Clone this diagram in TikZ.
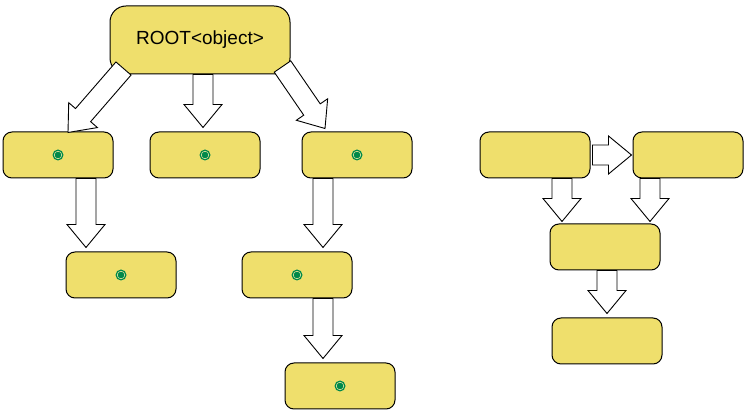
\documentclass[tikz,border=0pt]{standalone}
\usepackage{fontspec}
\setmainfont{Liberation Sans}
\usetikzlibrary{calc}
\definecolor{boxy}{HTML}{EFDF6C}
\definecolor{dotg}{HTML}{00894A}
\tikzset{
  box/.style={draw=black, line width=1pt, fill=boxy, rounded corners=9pt, minimum width=110pt, minimum height=46pt, inner sep=0pt},
  fat/.style={draw=black, line width=0.9pt, fill=white},
}
\newcommand{\dotmark}[1]{\fill[dotg] (#1) circle (5.5pt); \draw[boxy!60!white, line width=0.5pt] (#1) circle (3.8pt);}
% fat arrow from #1 to #2
\newcommand{\fatarr}[2]{%
  \draw[fat] let \p1=(#1), \p2=(#2), \n1={atan2(\y2-\y1,\x2-\x1)}, \n2={veclen(\x2-\x1,\y2-\y1)} in
   ($(\p1)+(\n1+90:10pt)$) -- ($(\p1)+(\n1:\n2-23pt)+(\n1+90:10pt)$) -- ($(\p1)+(\n1:\n2-23pt)+(\n1+90:19pt)$)
   -- (\p2) -- ($(\p1)+(\n1:\n2-23pt)+(\n1-90:19pt)$) -- ($(\p1)+(\n1:\n2-23pt)+(\n1-90:10pt)$)
   -- ($(\p1)+(\n1-90:10pt)$) -- cycle;}
\begin{document}
\begin{tikzpicture}[x=1pt,y=-1pt]
\useasboundingbox (0,0) rectangle (748,414);
\node[box, minimum width=180pt, minimum height=68pt, rounded corners=16pt, font=\fontsize{19}{22}\selectfont] (root) at (200,40) {ROOT<object>};
\node[box] (a) at (58,155) {};
\node[box] (b) at (205,155) {};
\node[box] (c) at (357,155) {};
\node[box] (d) at (121,275) {};
\node[box] (e) at (297,275) {};
\node[box] (f) at (340,386) {};
\node[box] (g) at (535,155) {};
\node[box] (h) at (688,155) {};
\node[box] (i) at (605,247) {};
\node[box] (j) at (607,341) {};
\foreach \n in {a,b,c,d,e,f}{\dotmark{\n}}
\fatarr{$(root.south west)+(14,-6)$}{$(a.north)+(10,1)$}
\fatarr{$(root.south)+(3,0)$}{$(b.north)+(-2,-4)$}
\fatarr{$(root.south east)+(-8,-8)$}{$(c.north)+(-32,-3)$}
\fatarr{$(a.south)+(28,0)$}{$(d.north)+(-35,-4)$}
\fatarr{$(c.south)+(-34,0)$}{$(e.north)+(26,-4)$}
\fatarr{$(e.south)+(26,0)$}{$(f.north)+(-17,-4)$}
\fatarr{$(g.east)+(2,0)$}{$(h.west)+(-1,0)$}
\fatarr{$(g.south)+(27,0)$}{$(i.north)+(-43,-2)$}
\fatarr{$(h.south)+(-38,0)$}{$(i.north)+(45,-2)$}
\fatarr{$(i.south)+(2,0)$}{$(j.north)+(0,-4)$}
\end{tikzpicture}
\end{document}
